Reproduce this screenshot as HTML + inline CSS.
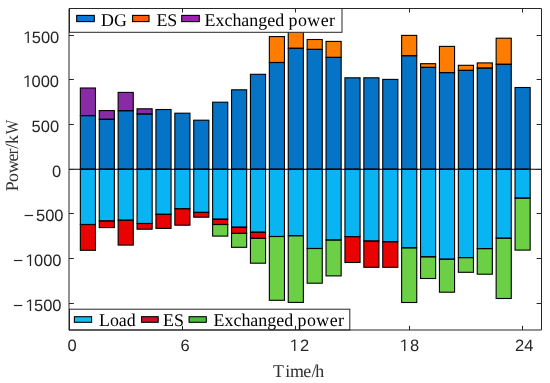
<!DOCTYPE html>
<html><head><meta charset="utf-8"><style>
html,body{margin:0;padding:0;background:#fff;}
body{width:550px;height:383px;overflow:hidden;}
svg{display:block;text-rendering:geometricPrecision;}
.tl{font-family:"Liberation Sans",Arial,sans-serif;font-size:16.5px;fill:#262626;}
.tl .one{font-family:"NanumGothic","Liberation Sans",sans-serif;font-size:15.5px;}
.lg{font-family:"Liberation Serif","Times New Roman",serif;font-size:17.9px;fill:#000;}
.al{font-family:"Liberation Serif","Times New Roman",serif;font-size:17.9px;fill:#303030;}
</style></head><body>
<svg width="550" height="383" viewBox="0 0 550 383">
<rect width="550" height="383" fill="#fff"/>
<g>
<rect x="80.34" y="115.6" width="15.12" height="53.65" fill="#0573c6"/>
<rect x="80.34" y="88" width="15.12" height="27.6" fill="#8a2ba6"/>
<rect x="80.34" y="169.25" width="15.12" height="55.25" fill="#08b4f2"/>
<rect x="80.34" y="224.5" width="15.12" height="25.8" fill="#e80202"/>
<rect x="99.24" y="119.3" width="15.12" height="49.95" fill="#0573c6"/>
<rect x="99.24" y="110.6" width="15.12" height="8.7" fill="#8a2ba6"/>
<rect x="99.24" y="169.25" width="15.12" height="51.65" fill="#08b4f2"/>
<rect x="99.24" y="220.9" width="15.12" height="6.7" fill="#e80202"/>
<rect x="118.14" y="110.7" width="15.12" height="58.55" fill="#0573c6"/>
<rect x="118.14" y="92.4" width="15.12" height="18.3" fill="#8a2ba6"/>
<rect x="118.14" y="169.25" width="15.12" height="50.95" fill="#08b4f2"/>
<rect x="118.14" y="220.2" width="15.12" height="24.9" fill="#e80202"/>
<rect x="137.04" y="114" width="15.12" height="55.25" fill="#0573c6"/>
<rect x="137.04" y="108.8" width="15.12" height="5.2" fill="#8a2ba6"/>
<rect x="137.04" y="169.25" width="15.12" height="54.25" fill="#08b4f2"/>
<rect x="137.04" y="223.5" width="15.12" height="5.7" fill="#e80202"/>
<rect x="155.94" y="109.5" width="15.12" height="59.75" fill="#0573c6"/>
<rect x="155.94" y="169.25" width="15.12" height="45.05" fill="#08b4f2"/>
<rect x="155.94" y="214.3" width="15.12" height="14.1" fill="#e80202"/>
<rect x="174.84" y="113.2" width="15.12" height="56.05" fill="#0573c6"/>
<rect x="174.84" y="169.25" width="15.12" height="39.45" fill="#08b4f2"/>
<rect x="174.84" y="208.7" width="15.12" height="16.5" fill="#e80202"/>
<rect x="193.74" y="120.2" width="15.12" height="49.05" fill="#0573c6"/>
<rect x="193.74" y="169.25" width="15.12" height="43.15" fill="#08b4f2"/>
<rect x="193.74" y="212.4" width="15.12" height="4.8" fill="#e80202"/>
<rect x="212.64" y="102.2" width="15.12" height="67.05" fill="#0573c6"/>
<rect x="212.64" y="169.25" width="15.12" height="49.95" fill="#08b4f2"/>
<rect x="212.64" y="219.2" width="15.12" height="5.3" fill="#e80202"/>
<rect x="212.64" y="224.5" width="15.12" height="11.6" fill="#6bd046"/>
<rect x="231.54" y="89.8" width="15.12" height="79.45" fill="#0573c6"/>
<rect x="231.54" y="169.25" width="15.12" height="57.95" fill="#08b4f2"/>
<rect x="231.54" y="227.2" width="15.12" height="6.2" fill="#e80202"/>
<rect x="231.54" y="233.4" width="15.12" height="13.9" fill="#6bd046"/>
<rect x="250.44" y="74.3" width="15.12" height="94.95" fill="#0573c6"/>
<rect x="250.44" y="169.25" width="15.12" height="62.95" fill="#08b4f2"/>
<rect x="250.44" y="232.2" width="15.12" height="6.2" fill="#e80202"/>
<rect x="250.44" y="238.4" width="15.12" height="24.8" fill="#6bd046"/>
<rect x="269.34" y="62.5" width="15.12" height="106.75" fill="#0573c6"/>
<rect x="269.34" y="36.6" width="15.12" height="25.9" fill="#ff7c00"/>
<rect x="269.34" y="169.25" width="15.12" height="67.25" fill="#08b4f2"/>
<rect x="269.34" y="236.5" width="15.12" height="63.8" fill="#6bd046"/>
<rect x="288.24" y="48.3" width="15.12" height="120.95" fill="#0573c6"/>
<rect x="288.24" y="20" width="15.12" height="28.3" fill="#ff7c00"/>
<rect x="288.24" y="169.25" width="15.12" height="66.45" fill="#08b4f2"/>
<rect x="288.24" y="235.7" width="15.12" height="66.7" fill="#6bd046"/>
<rect x="307.14" y="49.4" width="15.12" height="119.85" fill="#0573c6"/>
<rect x="307.14" y="39.5" width="15.12" height="9.9" fill="#ff7c00"/>
<rect x="307.14" y="169.25" width="15.12" height="79.25" fill="#08b4f2"/>
<rect x="307.14" y="248.5" width="15.12" height="34.7" fill="#6bd046"/>
<rect x="326.04" y="57.4" width="15.12" height="111.85" fill="#0573c6"/>
<rect x="326.04" y="41.4" width="15.12" height="16" fill="#ff7c00"/>
<rect x="326.04" y="169.25" width="15.12" height="70.75" fill="#08b4f2"/>
<rect x="326.04" y="240" width="15.12" height="35.9" fill="#6bd046"/>
<rect x="344.94" y="77.8" width="15.12" height="91.45" fill="#0573c6"/>
<rect x="344.94" y="169.25" width="15.12" height="67.35" fill="#08b4f2"/>
<rect x="344.94" y="236.6" width="15.12" height="25.9" fill="#e80202"/>
<rect x="363.84" y="77.8" width="15.12" height="91.45" fill="#0573c6"/>
<rect x="363.84" y="169.25" width="15.12" height="71.75" fill="#08b4f2"/>
<rect x="363.84" y="241" width="15.12" height="26.3" fill="#e80202"/>
<rect x="382.74" y="79.4" width="15.12" height="89.85" fill="#0573c6"/>
<rect x="382.74" y="169.25" width="15.12" height="72.45" fill="#08b4f2"/>
<rect x="382.74" y="241.7" width="15.12" height="25.6" fill="#e80202"/>
<rect x="401.64" y="55.7" width="15.12" height="113.55" fill="#0573c6"/>
<rect x="401.64" y="35.4" width="15.12" height="20.3" fill="#ff7c00"/>
<rect x="401.64" y="169.25" width="15.12" height="78.55" fill="#08b4f2"/>
<rect x="401.64" y="247.8" width="15.12" height="54.7" fill="#6bd046"/>
<rect x="420.54" y="67.4" width="15.12" height="101.85" fill="#0573c6"/>
<rect x="420.54" y="63.7" width="15.12" height="3.7" fill="#ff7c00"/>
<rect x="420.54" y="169.25" width="15.12" height="87.55" fill="#08b4f2"/>
<rect x="420.54" y="256.8" width="15.12" height="21.7" fill="#6bd046"/>
<rect x="439.44" y="72.6" width="15.12" height="96.65" fill="#0573c6"/>
<rect x="439.44" y="46.4" width="15.12" height="26.2" fill="#ff7c00"/>
<rect x="439.44" y="169.25" width="15.12" height="89.95" fill="#08b4f2"/>
<rect x="439.44" y="259.2" width="15.12" height="33" fill="#6bd046"/>
<rect x="458.34" y="70.4" width="15.12" height="98.85" fill="#0573c6"/>
<rect x="458.34" y="65.3" width="15.12" height="5.1" fill="#ff7c00"/>
<rect x="458.34" y="169.25" width="15.12" height="88.35" fill="#08b4f2"/>
<rect x="458.34" y="257.6" width="15.12" height="14.7" fill="#6bd046"/>
<rect x="477.24" y="68.1" width="15.12" height="101.15" fill="#0573c6"/>
<rect x="477.24" y="62.9" width="15.12" height="5.2" fill="#ff7c00"/>
<rect x="477.24" y="169.25" width="15.12" height="79.35" fill="#08b4f2"/>
<rect x="477.24" y="248.6" width="15.12" height="25.6" fill="#6bd046"/>
<rect x="496.14" y="64.3" width="15.12" height="104.95" fill="#0573c6"/>
<rect x="496.14" y="38.2" width="15.12" height="26.1" fill="#ff7c00"/>
<rect x="496.14" y="169.25" width="15.12" height="68.95" fill="#08b4f2"/>
<rect x="496.14" y="238.2" width="15.12" height="60.3" fill="#6bd046"/>
<rect x="515.04" y="87.5" width="15.12" height="81.75" fill="#0573c6"/>
<rect x="515.04" y="169.25" width="15.12" height="28.85" fill="#08b4f2"/>
<rect x="515.04" y="198.1" width="15.12" height="52" fill="#6bd046"/>
</g>
<g fill="none" stroke="#000" stroke-width="1.1">
<rect x="80.34" y="115.6" width="15.12" height="53.65"/>
<rect x="80.34" y="88" width="15.12" height="27.6"/>
<rect x="80.34" y="169.25" width="15.12" height="55.25"/>
<rect x="80.34" y="224.5" width="15.12" height="25.8"/>
<rect x="99.24" y="119.3" width="15.12" height="49.95"/>
<rect x="99.24" y="110.6" width="15.12" height="8.7"/>
<rect x="99.24" y="169.25" width="15.12" height="51.65"/>
<rect x="99.24" y="220.9" width="15.12" height="6.7"/>
<rect x="118.14" y="110.7" width="15.12" height="58.55"/>
<rect x="118.14" y="92.4" width="15.12" height="18.3"/>
<rect x="118.14" y="169.25" width="15.12" height="50.95"/>
<rect x="118.14" y="220.2" width="15.12" height="24.9"/>
<rect x="137.04" y="114" width="15.12" height="55.25"/>
<rect x="137.04" y="108.8" width="15.12" height="5.2"/>
<rect x="137.04" y="169.25" width="15.12" height="54.25"/>
<rect x="137.04" y="223.5" width="15.12" height="5.7"/>
<rect x="155.94" y="109.5" width="15.12" height="59.75"/>
<rect x="155.94" y="169.25" width="15.12" height="45.05"/>
<rect x="155.94" y="214.3" width="15.12" height="14.1"/>
<rect x="174.84" y="113.2" width="15.12" height="56.05"/>
<rect x="174.84" y="169.25" width="15.12" height="39.45"/>
<rect x="174.84" y="208.7" width="15.12" height="16.5"/>
<rect x="193.74" y="120.2" width="15.12" height="49.05"/>
<rect x="193.74" y="169.25" width="15.12" height="43.15"/>
<rect x="193.74" y="212.4" width="15.12" height="4.8"/>
<rect x="212.64" y="102.2" width="15.12" height="67.05"/>
<rect x="212.64" y="169.25" width="15.12" height="49.95"/>
<rect x="212.64" y="219.2" width="15.12" height="5.3"/>
<rect x="212.64" y="224.5" width="15.12" height="11.6"/>
<rect x="231.54" y="89.8" width="15.12" height="79.45"/>
<rect x="231.54" y="169.25" width="15.12" height="57.95"/>
<rect x="231.54" y="227.2" width="15.12" height="6.2"/>
<rect x="231.54" y="233.4" width="15.12" height="13.9"/>
<rect x="250.44" y="74.3" width="15.12" height="94.95"/>
<rect x="250.44" y="169.25" width="15.12" height="62.95"/>
<rect x="250.44" y="232.2" width="15.12" height="6.2"/>
<rect x="250.44" y="238.4" width="15.12" height="24.8"/>
<rect x="269.34" y="62.5" width="15.12" height="106.75"/>
<rect x="269.34" y="36.6" width="15.12" height="25.9"/>
<rect x="269.34" y="169.25" width="15.12" height="67.25"/>
<rect x="269.34" y="236.5" width="15.12" height="63.8"/>
<rect x="288.24" y="48.3" width="15.12" height="120.95"/>
<rect x="288.24" y="20" width="15.12" height="28.3"/>
<rect x="288.24" y="169.25" width="15.12" height="66.45"/>
<rect x="288.24" y="235.7" width="15.12" height="66.7"/>
<rect x="307.14" y="49.4" width="15.12" height="119.85"/>
<rect x="307.14" y="39.5" width="15.12" height="9.9"/>
<rect x="307.14" y="169.25" width="15.12" height="79.25"/>
<rect x="307.14" y="248.5" width="15.12" height="34.7"/>
<rect x="326.04" y="57.4" width="15.12" height="111.85"/>
<rect x="326.04" y="41.4" width="15.12" height="16"/>
<rect x="326.04" y="169.25" width="15.12" height="70.75"/>
<rect x="326.04" y="240" width="15.12" height="35.9"/>
<rect x="344.94" y="77.8" width="15.12" height="91.45"/>
<rect x="344.94" y="169.25" width="15.12" height="67.35"/>
<rect x="344.94" y="236.6" width="15.12" height="25.9"/>
<rect x="363.84" y="77.8" width="15.12" height="91.45"/>
<rect x="363.84" y="169.25" width="15.12" height="71.75"/>
<rect x="363.84" y="241" width="15.12" height="26.3"/>
<rect x="382.74" y="79.4" width="15.12" height="89.85"/>
<rect x="382.74" y="169.25" width="15.12" height="72.45"/>
<rect x="382.74" y="241.7" width="15.12" height="25.6"/>
<rect x="401.64" y="55.7" width="15.12" height="113.55"/>
<rect x="401.64" y="35.4" width="15.12" height="20.3"/>
<rect x="401.64" y="169.25" width="15.12" height="78.55"/>
<rect x="401.64" y="247.8" width="15.12" height="54.7"/>
<rect x="420.54" y="67.4" width="15.12" height="101.85"/>
<rect x="420.54" y="63.7" width="15.12" height="3.7"/>
<rect x="420.54" y="169.25" width="15.12" height="87.55"/>
<rect x="420.54" y="256.8" width="15.12" height="21.7"/>
<rect x="439.44" y="72.6" width="15.12" height="96.65"/>
<rect x="439.44" y="46.4" width="15.12" height="26.2"/>
<rect x="439.44" y="169.25" width="15.12" height="89.95"/>
<rect x="439.44" y="259.2" width="15.12" height="33"/>
<rect x="458.34" y="70.4" width="15.12" height="98.85"/>
<rect x="458.34" y="65.3" width="15.12" height="5.1"/>
<rect x="458.34" y="169.25" width="15.12" height="88.35"/>
<rect x="458.34" y="257.6" width="15.12" height="14.7"/>
<rect x="477.24" y="68.1" width="15.12" height="101.15"/>
<rect x="477.24" y="62.9" width="15.12" height="5.2"/>
<rect x="477.24" y="169.25" width="15.12" height="79.35"/>
<rect x="477.24" y="248.6" width="15.12" height="25.6"/>
<rect x="496.14" y="64.3" width="15.12" height="104.95"/>
<rect x="496.14" y="38.2" width="15.12" height="26.1"/>
<rect x="496.14" y="169.25" width="15.12" height="68.95"/>
<rect x="496.14" y="238.2" width="15.12" height="60.3"/>
<rect x="515.04" y="87.5" width="15.12" height="81.75"/>
<rect x="515.04" y="169.25" width="15.12" height="28.85"/>
<rect x="515.04" y="198.1" width="15.12" height="52"/>
</g>
<line x1="69" y1="169.25" x2="541.5" y2="169.25" stroke="#000" stroke-width="1.1"/>
<!-- legends -->
<g>
<rect x="69.5" y="8.5" width="272.5" height="23.8" fill="#fff" stroke="#262626" stroke-width="1"/>
<rect x="76.7" y="15.4" width="17.6" height="6.2" fill="#0a78d6" stroke="#000" stroke-width="1.1"/>
<text class="lg" x="101" y="25.5">DG</text>
<rect x="132.6" y="15.4" width="16.4" height="6.2" fill="#ff5a0a" stroke="#000" stroke-width="1.1"/>
<text class="lg" x="156.4" y="25.5">ES</text>
<rect x="181.7" y="15.4" width="17.6" height="6.2" fill="#9c22b0" stroke="#000" stroke-width="1.1"/>
<text class="lg" x="204.6" y="25.5">Exchanged <tspan letter-spacing="0.45">power</tspan></text>

<rect x="69.5" y="309.2" width="280.3" height="20.8" fill="#fff" stroke="#262626" stroke-width="1"/>
<rect x="74.4" y="316.7" width="17.2" height="5.6" fill="#12bfea" stroke="#000" stroke-width="1.1"/>
<text class="lg" x="99" y="325.6">Load</text>
<rect x="141.6" y="316.7" width="16.6" height="5.6" fill="#d0102a" stroke="#000" stroke-width="1.1"/>
<text class="lg" x="163" y="325.6">ES</text>
<rect x="189.1" y="316.7" width="17.2" height="5.6" fill="#4cbb40" stroke="#000" stroke-width="1.1"/>
<text class="lg" x="213.6" y="325.6">Exchanged <tspan letter-spacing="0.45">power</tspan></text>
</g>
<!-- axes box -->
<g stroke="#262626" stroke-width="1" fill="none">
<line x1="69" y1="8.5" x2="541.5" y2="8.5"/>
<line x1="69" y1="330" x2="541.5" y2="330"/>
<line x1="69" y1="8.5" x2="69" y2="330"/>
<line x1="541.5" y1="8.5" x2="541.5" y2="330"/>
<line x1="69" y1="303.5" x2="73.9" y2="303.5"/>
<line x1="541.5" y1="303.5" x2="536.6" y2="303.5"/>
<line x1="69" y1="258.5" x2="73.9" y2="258.5"/>
<line x1="541.5" y1="258.5" x2="536.6" y2="258.5"/>
<line x1="69" y1="213.5" x2="73.9" y2="213.5"/>
<line x1="541.5" y1="213.5" x2="536.6" y2="213.5"/>
<line x1="69" y1="169.5" x2="73.9" y2="169.5"/>
<line x1="541.5" y1="169.5" x2="536.6" y2="169.5"/>
<line x1="69" y1="124.5" x2="73.9" y2="124.5"/>
<line x1="541.5" y1="124.5" x2="536.6" y2="124.5"/>
<line x1="69" y1="79.5" x2="73.9" y2="79.5"/>
<line x1="541.5" y1="79.5" x2="536.6" y2="79.5"/>
<line x1="69" y1="35.5" x2="73.9" y2="35.5"/>
<line x1="541.5" y1="35.5" x2="536.6" y2="35.5"/>
<line x1="182.5" y1="330" x2="182.5" y2="325.8"/>
<line x1="182.5" y1="8.5" x2="182.5" y2="12.5"/>
<line x1="295.5" y1="330" x2="295.5" y2="325.8"/>
<line x1="295.5" y1="8.5" x2="295.5" y2="12.5"/>
<line x1="409.5" y1="330" x2="409.5" y2="325.8"/>
<line x1="409.5" y1="8.5" x2="409.5" y2="12.5"/>
<line x1="522.5" y1="330" x2="522.5" y2="325.8"/>
<line x1="522.5" y1="8.5" x2="522.5" y2="12.5"/>
</g>
<g class="tl">
<text y="42.9"><tspan class="one" x="21.85" textLength="11.74" lengthAdjust="spacingAndGlyphs">1</tspan><tspan x="31.77 40.95 50.12">500</tspan></text>
<text y="86.8"><tspan class="one" x="21.55" textLength="11.74" lengthAdjust="spacingAndGlyphs">1</tspan><tspan x="31.47 40.65 49.82">000</tspan></text>
<text y="132"><tspan x="31.57 40.75 49.92">500</tspan></text>
<text y="176.9"><tspan x="52.02">0</tspan></text>
<text y="221.2"><tspan x="23.84" textLength="10.21" lengthAdjust="spacingAndGlyphs">−</tspan><tspan x="35.97 45.15 54.32">500</tspan></text>
<text y="266"><tspan x="13.04" textLength="10.21" lengthAdjust="spacingAndGlyphs">−</tspan><tspan class="one" x="24.05" textLength="11.74" lengthAdjust="spacingAndGlyphs">1</tspan><tspan x="33.97 43.15 52.32">000</tspan></text>
<text y="310.9"><tspan x="13.04" textLength="10.21" lengthAdjust="spacingAndGlyphs">−</tspan><tspan class="one" x="24.05" textLength="11.74" lengthAdjust="spacingAndGlyphs">1</tspan><tspan x="33.97 43.15 52.32">500</tspan></text>
<text y="350.5"><tspan x="67.41">0</tspan></text>
<text y="350.5"><tspan x="180.51">6</tspan></text>
<text y="350.5"><tspan class="one" x="288.33" textLength="11.74" lengthAdjust="spacingAndGlyphs">1</tspan><tspan x="300">2</tspan></text>
<text y="350.5"><tspan class="one" x="398.33" textLength="11.74" lengthAdjust="spacingAndGlyphs">1</tspan><tspan x="410">8</tspan></text>
<text y="350.5"><tspan x="515.02 524.2">24</tspan></text>
</g>
<text class="al" x="273" y="377" dx="0 1.9 -0.2 -0.6 0.3 -1.2">Time/h</text>
<text class="al" transform="translate(17.9,191.2) rotate(-90)"><tspan dx="0 -0.7 -0.3 -1.1 -0.9 -0.2 -0.4">Power/k</tspan><tspan x="56.9" textLength="14.53" lengthAdjust="spacingAndGlyphs">W</tspan></text>
</svg>
</body></html>
